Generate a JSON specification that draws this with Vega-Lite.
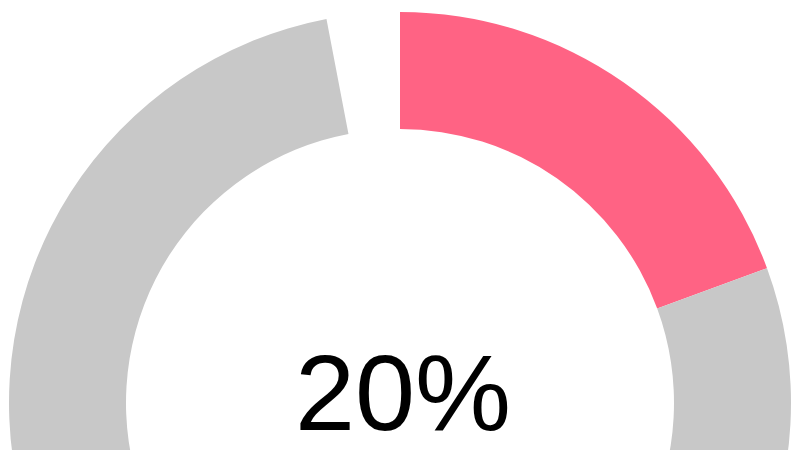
{
  "$schema": "https://vega.github.io/schema/vega-lite/v6.json",
  "width": 800,
  "height": 806,
  "autosize": "none",
  "padding": 0,
  "background": "white",
  "config": {"view": {"stroke": null}},
  "layer": [
    {
      "data": {
        "values": [
          {"part": "Value", "value": 20, "rank": 1},
          {"part": "Rest", "value": 80, "rank": 2}
        ]
      },
      "mark": {"type": "arc", "outerRadius": 391, "innerRadius": 274},
      "encoding": {
        "theta": {
          "field": "value",
          "type": "quantitative",
          "stack": true,
          "scale": {"range": [0, 6.094]}
        },
        "order": {"field": "rank"},
        "color": {
          "field": "part",
          "type": "nominal",
          "scale": {"domain": ["Value", "Rest"], "range": ["#FF6384", "#C8C8C8"]},
          "legend": null
        }
      }
    },
    {
      "data": {"values": [{"label": "20%"}]},
      "mark": {
        "type": "text",
        "font": "Liberation Sans",
        "fontSize": 108,
        "align": "center",
        "baseline": "alphabetic",
        "dx": 3,
        "dy": 27,
        "color": "#000000"
      },
      "encoding": {"text": {"field": "label"}}
    }
  ]
}
